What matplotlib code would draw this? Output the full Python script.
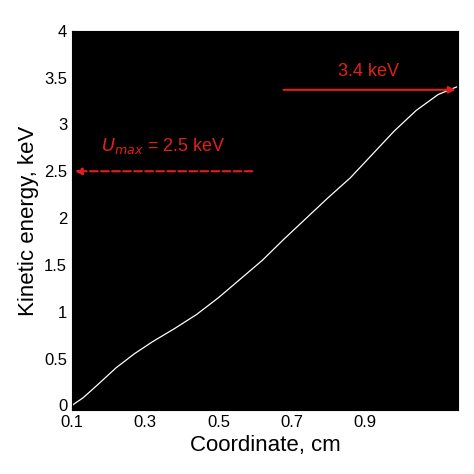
import matplotlib.pyplot as plt

plt.rcParams["font.family"] = ["Liberation Sans", "DejaVu Sans"]

coord = [0.10, 0.13, 0.17, 0.22, 0.27, 0.32, 0.38, 0.44, 0.50, 0.56, 0.62, 0.68, 0.74, 0.80, 0.86, 0.92, 0.98, 1.04, 1.10, 1.15]
energy = [0.0, 0.08, 0.22, 0.40, 0.55, 0.68, 0.82, 0.97, 1.15, 1.35, 1.55, 1.78, 2.00, 2.22, 2.43, 2.68, 2.93, 3.15, 3.32, 3.40]

fig = plt.figure(figsize=(4.74, 4.74), dpi=100)
ax = fig.add_axes([0.152, 0.135, 0.815, 0.8])
ax.set_facecolor("black")
ax.plot(coord, energy, color="white", lw=0.9)

ax.set_xlim(0.1, 1.155)
ax.set_ylim(-0.05, 4)
ax.set_xticks([0.1, 0.3, 0.5, 0.7, 0.9])
ax.set_xticklabels(["0.1", "0.3", "0.5", "0.7", "0.9"])
ax.set_yticks([0, 0.5, 1, 1.5, 2, 2.5, 3, 3.5, 4])
ax.set_yticklabels(["0", "0.5", "1", "1.5", "2", "2.5", "3", "3.5", "4"])
ax.tick_params(labelsize=12, direction="in", length=3)
ax.set_xlabel("Coordinate, cm", fontsize=16)
ax.set_ylabel("Kinetic energy, keV", fontsize=16)

red = "#e0201c"
ax.annotate("", xy=(0.1, 2.5), xytext=(0.6, 2.5),
            arrowprops=dict(arrowstyle="-|>", color=red, lw=1.5, linestyle="--"))
ax.text(0.35, 2.72, r"$U_{max}$ = 2.5 keV", color=red, fontsize=13, ha="center")
ax.annotate("", xy=(1.155, 3.37), xytext=(0.67, 3.37),
            arrowprops=dict(arrowstyle="-|>", color=red, lw=1.5))
ax.text(0.91, 3.52, "3.4 keV", color=red, fontsize=13, ha="center")

fig.savefig("out.png", dpi=100)
